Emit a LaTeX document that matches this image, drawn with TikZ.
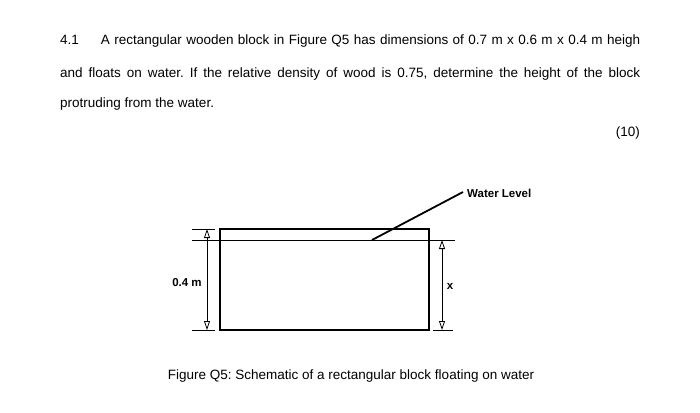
\documentclass[tikz,border=0pt]{standalone}
\usepackage{fontspec}
\setmainfont{Liberation Sans}
\usetikzlibrary{arrows.meta}
\begin{document}
\frenchspacing
\begin{tikzpicture}[x=1pt,y=-1pt,
  txt/.style={anchor=base west,inner sep=0pt,font=\fontsize{13.5}{15}\selectfont},
  lbl/.style={inner sep=0pt,font=\bfseries\fontsize{11.5}{12}\selectfont},
  dim/.style={{Triangle[open,length=9pt,width=6pt]}-{Triangle[open,length=9pt,width=6pt]},line width=0.8pt},
  ln/.style={line width=1.3pt}]
\useasboundingbox (0,0) rectangle (700,412);
\node[txt] (t1) at (60,45) {\makebox[580pt][s]{4.1\hspace{22pt}A rectangular wooden block in Figure Q5 has dimensions of 0.7 m x 0.6 m x 0.4 m heigh}};
\node[txt] (t2) at (60,77) {\makebox[580pt][s]{and floats on water. If the relative density of wood is 0.75, determine the height of the block}};
\node[txt] (t3) at (60,107) {protruding from the water.};
\node[txt,anchor=base east] (t4) at (640,136) {(10)};
\draw[ln] (220,229) rectangle (429,330);
\coordinate (wl) at (192,240); \coordinate (wr) at (455,240);
\draw[line width=0.9pt] (wl) -- (wr);
\draw[line width=0.9pt] (192,229) -- (215,229) (192,330) -- (215,330) (433,330) -- (453,330);
\coordinate (a1) at (207,229); \coordinate (a2) at (207,330);
\coordinate (b1) at (442,240); \coordinate (b2) at (442,330);
\draw[dim] (a1) -- (a2);
\draw[dim] (b1) -- (b2);
\coordinate (p) at (372,240);
\node[lbl,anchor=west] (w) at (467,193) {Water Level};
\draw[line width=1.8pt] (p) -- (463,192);
\node[lbl] (h) at (187,283) {0.4 m};
\node[lbl] (x) at (450,286) {x};
\node[txt,anchor=base] (cap) at (351,379) {Figure Q5: Schematic of a rectangular block floating on water};
\end{tikzpicture}
\end{document}
